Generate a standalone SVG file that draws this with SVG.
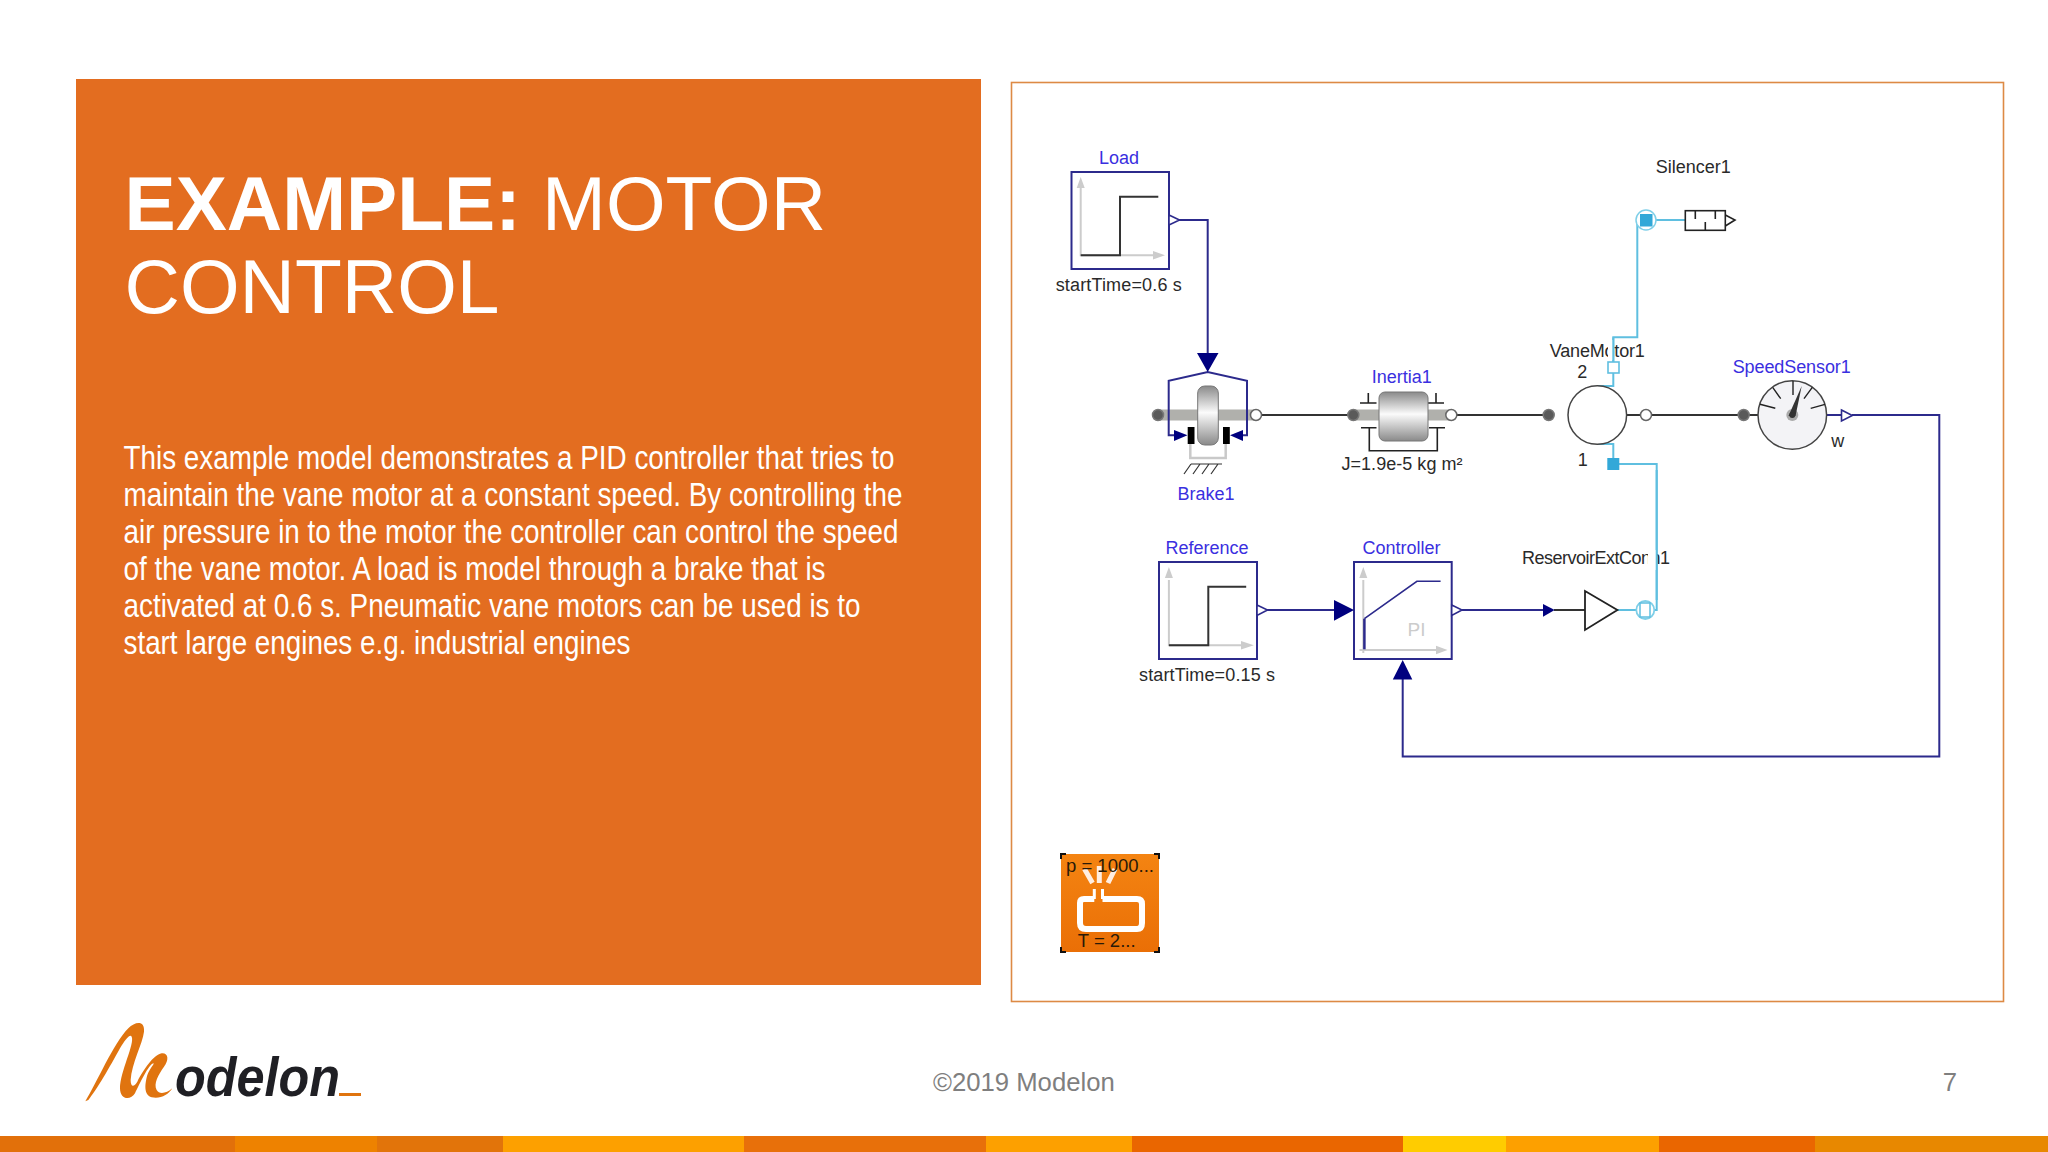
<svg xmlns="http://www.w3.org/2000/svg" width="2048" height="1152" viewBox="0 0 2048 1152">
<style>
text{font-family:"Liberation Sans",Arial,sans-serif}
.l{font-size:18px;text-anchor:middle;fill:#2a2a2a}
.b{font-size:18px;text-anchor:middle;fill:#3a2fe0}
.body{font-size:33px;fill:#fff}
.box{fill:#fff;stroke:#2c2a8c;stroke-width:2}
.sig{fill:none;stroke:#2c2a8c;stroke-width:2}
.pn{fill:none;stroke:#5fbfe0;stroke-width:2}
.mech{fill:none;stroke:#333;stroke-width:2}
.ax{fill:none;stroke:#ccc;stroke-width:2}
.axh{fill:#ccc}
.arr{fill:#00007f}
.out{fill:#fff;stroke:#2c2a8c;stroke-width:1.6}
.pd{fill:#5a5a5a;stroke:#777;stroke-width:1.5}
.pw{fill:#fff;stroke:#666;stroke-width:1.5}
.shaft{fill:#b0b0ac}
.sym{fill:none;stroke:#222;stroke-width:1.6}
</style>
<defs>
<linearGradient id="disc" x1="0" y1="0" x2="0" y2="1"><stop offset="0" stop-color="#8a8a8a"/><stop offset=".45" stop-color="#fbfbfb"/><stop offset="1" stop-color="#8a8a8a"/></linearGradient>
<linearGradient id="ic" x1="0" y1="0" x2="0" y2="1"><stop offset="0" stop-color="#f48412"/><stop offset="1" stop-color="#ea6f06"/></linearGradient>
</defs>
<rect width="2048" height="1152" fill="#fff"/>
<g id="panel">
<rect x="76" y="79" width="905" height="906" fill="#e36d20"/>
<text x="124.500" y="230" font-size="76.700" fill="#fff"><tspan font-weight="bold">EXAMPLE:</tspan> MOTOR</text>
<text x="124.500" y="313" font-size="76.700" fill="#fff">CONTROL</text>
<text class="body" x="123.500" y="469" textLength="771" lengthAdjust="spacingAndGlyphs">This example model demonstrates a PID controller that tries to</text>
<text class="body" x="123.500" y="506" textLength="779" lengthAdjust="spacingAndGlyphs">maintain the vane motor at a constant speed. By controlling the</text>
<text class="body" x="123.500" y="543" textLength="775" lengthAdjust="spacingAndGlyphs">air pressure in to the motor the controller can control the speed</text>
<text class="body" x="123.500" y="580" textLength="702" lengthAdjust="spacingAndGlyphs">of the vane motor. A load is model through a brake that is</text>
<text class="body" x="123.500" y="617" textLength="737" lengthAdjust="spacingAndGlyphs">activated at 0.6 s. Pneumatic vane motors can be used is to</text>
<text class="body" x="123.500" y="654" textLength="507" lengthAdjust="spacingAndGlyphs">start large engines e.g. industrial engines</text>
</g>
<rect id="frame" x="1011.500" y="82.500" width="992" height="919" fill="#fff" stroke="#dd8a45" stroke-width="1.600"/>

<g id="connectors">
<path class="sig" d="M1179 220H1207.700V356"/>
<path class="mech" d="M1256 415H1353M1451 415H1549M1627 415H1646M1646 415H1744M1744 415H1758"/>
<path class="sig" d="M1827 415H1842M1852 415H1939.300V756.500H1402.700V675"/>
<path class="sig" d="M1267 610H1336M1462 610H1545"/>
<path class="mech" d="M1554 610H1585"/>
<path class="pn" d="M1617 610H1637M1654 610H1656.700V464H1613.300V444H1598"/>
<path class="pn" d="M1598 386H1613.300V337.300H1637.300V220H1685"/>
</g>

<g id="Load">
<rect class="box" x="1071.500" y="172" width="97.500" height="97"/>
<path class="ax" d="M1080.700 186V255.300H1155"/><path class="axh" d="M1076.700 188L1080.700 177L1084.700 188ZM1153 251L1165 255.300L1153 259.500Z"/>
<path class="mech" d="M1080.700 255.300H1120V196.700H1158.300"/>
<path class="out" d="M1169 215L1179.500 220L1169 225Z"/>
<text class="b" x="1119" y="163.500">Load</text>
<text class="l" x="1118.700" y="290.700" textLength="126">startTime=0.6 s</text>
</g>

<g id="Brake1">
<path class="shaft" d="M1158 409.500H1256V420.500H1158Z"/>
<rect x="1197.700" y="386" width="20.600" height="59" rx="7" fill="url(#disc)" stroke="#777"/>
<path d="M1190.300 444V458H1225.700V444" fill="none" stroke="#c9c9c9" stroke-width="2.500"/>
<path d="M1191 464H1222M1184 474L1191 464M1193 474L1200 464M1202 474L1209 464M1211 474L1218 464" fill="none" stroke="#333" stroke-width="1.200"/>
<rect x="1187.700" y="427" width="6.800" height="17" fill="#000"/>
<rect x="1223" y="427" width="6.800" height="17" fill="#000"/>
<path class="sig" d="M1175 435.300H1168.700V380.700L1207.700 372L1247 380.700V435.300H1241"/>
<path class="arr" d="M1174 430L1187.500 435.300L1174 441ZM1243 430L1230 435.300L1243 441ZM1197 353H1218.500L1207.700 372Z"/>
<circle class="pd" cx="1158" cy="415" r="5.500"/><circle class="pw" cx="1256" cy="415" r="5.500"/>
<text class="b" x="1206" y="499.500">Brake1</text>
</g>

<g id="Inertia1">
<rect class="shaft" x="1353" y="409.500" width="98" height="11"/>
<path class="sym" d="M1368.300 393V403M1360 403H1376.500M1436 393V403M1428 403H1444M1361 427.700H1376.500M1369.300 427.700V450.700H1437.300V427.700M1429 427.700H1445"/>
<rect x="1379" y="392" width="49" height="49" rx="6" fill="url(#disc)" stroke="#777"/>
<circle class="pd" cx="1353.300" cy="415" r="5.500"/><circle class="pw" cx="1451.300" cy="415" r="5.500"/>
<text class="b" x="1401.700" y="382.700">Inertia1</text>
<text class="l" x="1402" y="470" textLength="121">J=1.9e-5 kg m²</text>
</g>

<g id="VaneMotor1">
<circle cx="1597.300" cy="415" r="29.300" fill="#fff" stroke="#444" stroke-width="1.500"/>
<rect x="1608" y="362" width="11" height="11" fill="#fff" stroke="#5fbfe0" stroke-width="1.600"/>
<rect x="1607.300" y="458" width="12" height="12" fill="#32a8d8"/>
<circle class="pd" cx="1548.700" cy="415" r="5.500"/><circle class="pw" cx="1646" cy="415" r="5.500"/>
<text class="l" x="1597.300" y="357.300" textLength="95">VaneMotor1</text>
<path d="M1611 340V360" stroke="#fff" stroke-width="6"/><path class="pn" d="M1613.300 337.300V362"/>
<text class="l" x="1582.300" y="378">2</text>
<text class="l" x="1582.700" y="466">1</text>
</g>

<g id="SpeedSensor1">
<circle cx="1792.300" cy="415" r="34.300" fill="#f3f3f6" stroke="#444" stroke-width="1.500"/>
<path d="M1793 381V395M1772.700 387.300L1780.700 398.700M1812.300 387.300L1804 398.700M1760 404.300L1775.300 408.300M1825 404.300L1810.700 408.300" stroke="#222" stroke-width="1.400" fill="none"/>
<circle cx="1792.300" cy="415" r="6" fill="#aaa"/>
<path d="M1801.700 386L1795.500 416H1788.500Z" fill="#333"/>
<circle cx="1792.300" cy="415" r="3" fill="#333"/>
<circle class="pd" cx="1743.700" cy="415" r="5.500"/>
<path class="out" d="M1841.500 410L1852.300 415.500L1841.500 421Z"/>
<text class="b" x="1791.700" y="373.300" textLength="118">SpeedSensor1</text>
<text class="l" x="1837.700" y="446.700">w</text>
</g>

<g id="Silencer1">
<circle cx="1646" cy="220" r="10" fill="#fff" stroke="#7fcfe8" stroke-width="1.500"/>
<rect x="1640" y="214" width="12.500" height="12.500" fill="#32a8d8"/>
<rect x="1685.300" y="210.700" width="40" height="19.600" fill="#fff" stroke="#222" stroke-width="1.600"/>
<path class="sym" d="M1695.300 211V219M1705.300 222V230M1715.300 211V219"/>
<path class="sym" fill="#fff" d="M1725.300 215L1735 220L1725.300 226"/>
<text class="l" x="1693.300" y="173.300">Silencer1</text>
</g>

<g id="Reference">
<rect class="box" x="1159" y="562" width="98" height="97"/>
<path class="ax" d="M1168.900 580V645.300H1242"/><path class="axh" d="M1164.900 578L1168.900 567L1172.900 578ZM1241 641L1253.800 645.300L1241 649.500Z"/>
<path class="mech" d="M1168.900 645.300H1208.300V586.700H1246.200"/>
<path class="out" d="M1257 605L1267.500 610L1257 615.500Z"/>
<text class="b" x="1207" y="554">Reference</text>
<text class="l" x="1207" y="681" textLength="136">startTime=0.15 s</text>
</g>

<g id="Controller">
<rect class="box" x="1354" y="562" width="97.700" height="97"/>
<path class="ax" d="M1363.300 580V653M1359.500 650H1437"/><path class="axh" d="M1359.300 578L1363.300 567L1367.300 578ZM1436 645.800L1447.500 650L1436 654.300Z"/>
<path fill="none" stroke="#2c2a8c" stroke-width="1.600" d="M1364.400 618.700L1416.900 581.300H1440.600"/>
<path fill="none" stroke="#2c2a8c" stroke-width="2.500" d="M1364.400 649.300V618.700"/>
<text x="1416.500" y="636" font-size="19" text-anchor="middle" fill="#ccc">PI</text>
<path class="out" d="M1451.700 605L1462 610L1451.700 615.500Z"/>
<path class="arr" d="M1334 600L1354 610L1334 620.700ZM1392.800 679.500L1402.700 660L1412.300 679.500Z"/>
<text class="b" x="1401.600" y="554">Controller</text>
</g>

<g id="ReservoirExtConn1">
<path class="arr" d="M1543 604L1554.700 610L1543 616.700Z"/>
<path d="M1585 591L1617.400 610L1585 630Z" fill="#fff" stroke="#222" stroke-width="1.800"/>
<circle cx="1645.300" cy="610" r="9" fill="#fff" stroke="#7fcfe8" stroke-width="1.800"/>
<rect x="1640" y="603" width="10" height="14" fill="none" stroke="#5fbfe0" stroke-width="1.500"/>
<text class="l" x="1596" y="564" textLength="148">ReservoirExtConn1</text>
<rect x="1648" y="550" width="8" height="20" fill="#fff"/>
<path class="pn" d="M1656.700 470V600"/>
</g>

<g id="system">
<rect x="1061" y="854" width="98" height="98" fill="url(#ic)"/>
<path d="M1061 859V854H1066M1154 854H1159V859M1159 947V952H1154M1066 952H1061V947" fill="none" stroke="#111" stroke-width="2"/>
<path d="M1094.300 899H1084Q1080 899 1080 903V923Q1080 929 1086 929H1137Q1142 929 1142 923V904Q1142 899 1137 899H1102.500" fill="none" stroke="#fff" stroke-width="6"/>
<path d="M1094.300 889V899M1102.500 889V899" stroke="#fff" stroke-width="3" fill="none"/>
<path d="M1084.500 869L1092.500 883M1099.300 866V883M1115 869L1108 883" stroke="#ffeee2" stroke-width="5" fill="none"/>
<text x="1066" y="871.700" font-size="18.500" fill="#2a1a08">p = 1000...</text>
<text x="1106.700" y="946.700" font-size="18.500" text-anchor="middle" fill="#2a1a08">T = 2...</text>
</g>

<g id="logo">
<path transform="translate(60 1000) scale(.3333)" fill="#e0740f" d="M76 304C110 250 160 130 205 85C225 65 255 60 252 95C248 130 215 190 212 240C212 262 222 262 232 245C250 210 280 165 305 160C325 158 328 180 312 200C295 225 280 250 290 270C298 285 320 280 337 265C325 285 300 298 275 292C250 285 255 250 262 225C270 205 285 190 280 190C265 195 240 250 225 280C212 302 180 300 180 265C180 215 225 130 215 110C210 100 195 120 180 145C150 200 110 270 85 300Z"/>
<text x="175" y="1096" font-size="56" font-weight="bold" font-style="italic" fill="#1f1f24" textLength="165" lengthAdjust="spacingAndGlyphs">odelon</text>
<rect x="339" y="1093" width="22" height="3" fill="#e0740f"/>
</g>

<g id="footer">
<text x="933" y="1091" font-size="25.700" fill="#7f7f7f">©2019 Modelon</text>
<text x="1950" y="1091" font-size="25.700" text-anchor="middle" fill="#7f7f7f">7</text>
</g>

<g id="bar">
<rect x="0" y="1136" width="235" height="16" fill="#e2700a"/>
<rect x="235" y="1136" width="142" height="16" fill="#ee8200"/>
<rect x="377" y="1136" width="126" height="16" fill="#e2740a"/>
<rect x="503" y="1136" width="241" height="16" fill="#fda000"/>
<rect x="744" y="1136" width="242" height="16" fill="#e8700a"/>
<rect x="986" y="1136" width="146" height="16" fill="#fda000"/>
<rect x="1132" y="1136" width="271" height="16" fill="#ea6600"/>
<rect x="1403" y="1136" width="103" height="16" fill="#ffcc00"/>
<rect x="1506" y="1136" width="153" height="16" fill="#fda000"/>
<rect x="1659" y="1136" width="156" height="16" fill="#ea6600"/>
<rect x="1815" y="1136" width="233" height="16" fill="#e88800"/>
</g>
</svg>
